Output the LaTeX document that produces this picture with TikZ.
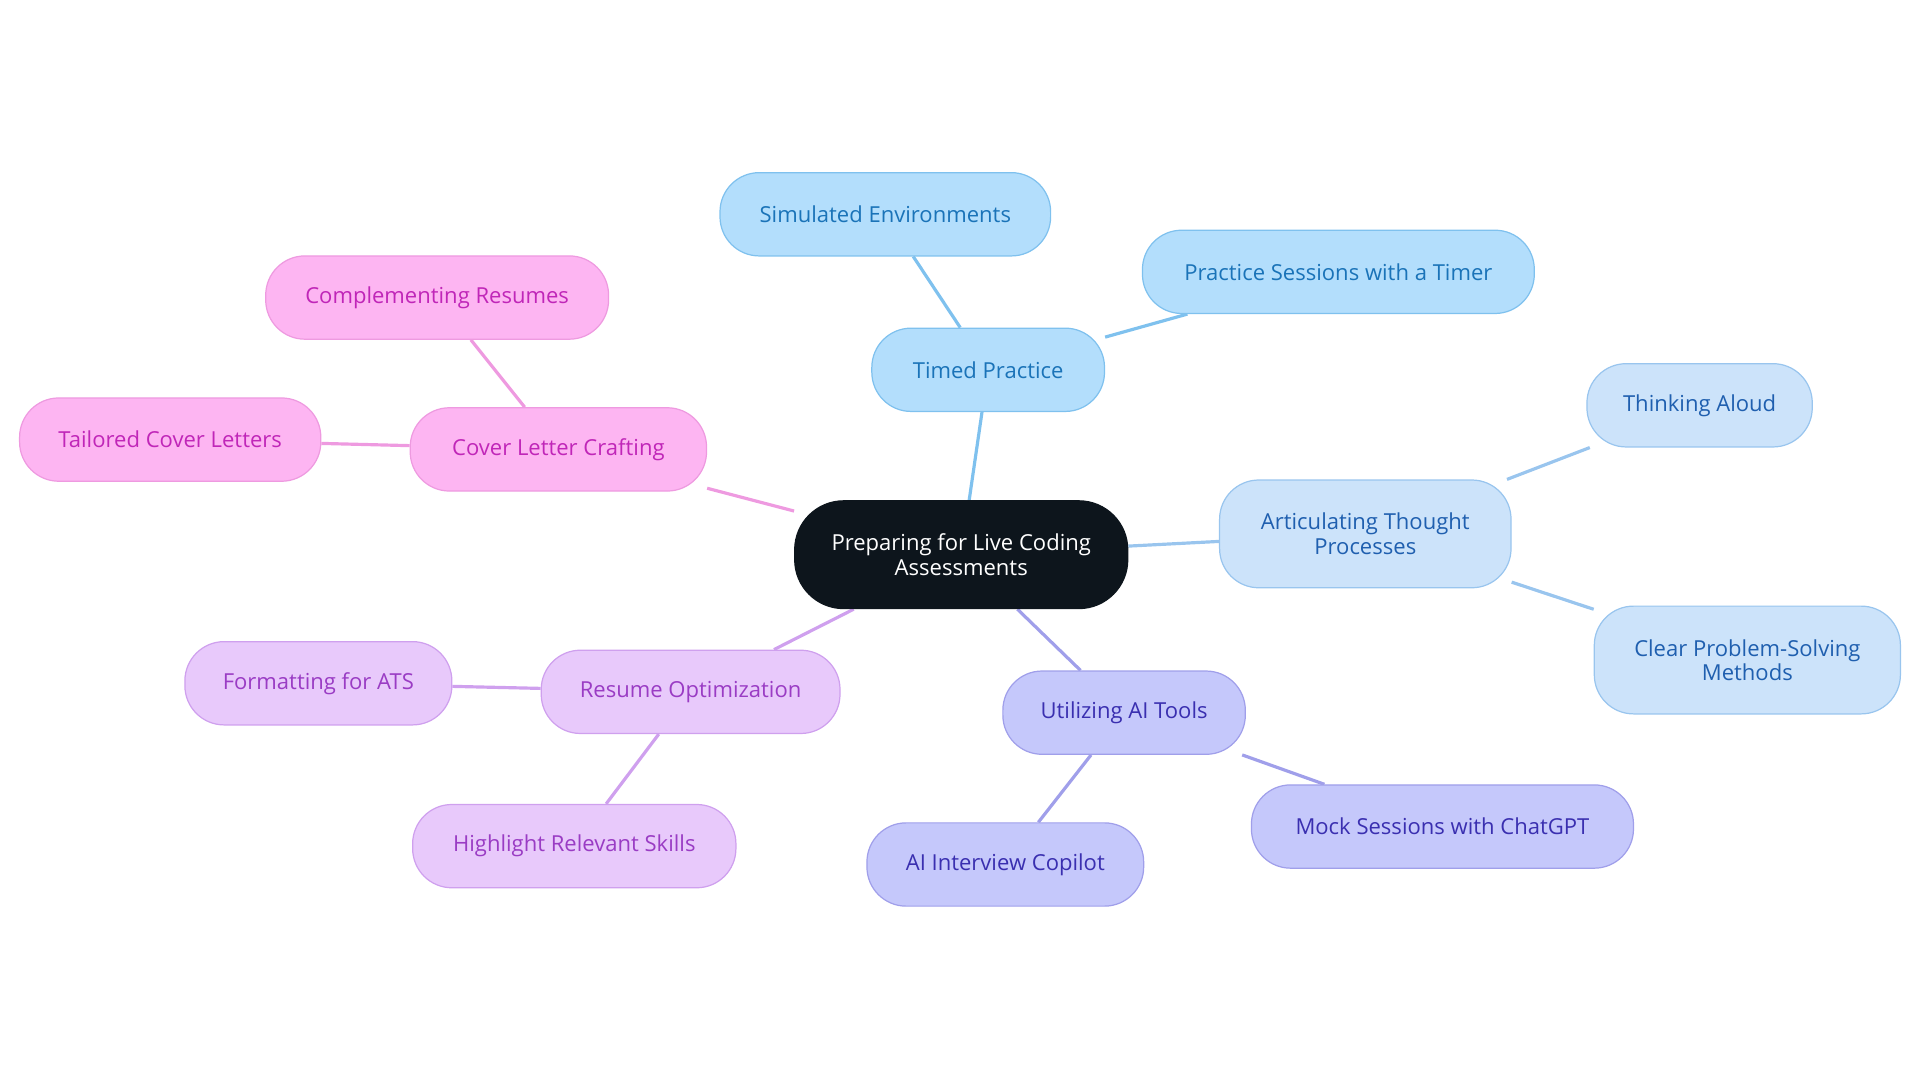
\documentclass[tikz,border=0pt]{standalone}
\usepackage{fontspec}
\setmainfont{Open Sans}
\usetikzlibrary{backgrounds}
\definecolor{rootc}{HTML}{0D151C}
\definecolor{bF}{HTML}{B3DEFC}\definecolor{bD}{HTML}{7FC1EE}\definecolor{bT}{HTML}{1A73B8}
\definecolor{lF}{HTML}{CCE3FA}\definecolor{lD}{HTML}{99C5EE}\definecolor{lT}{HTML}{1F5FAF}
\definecolor{vF}{HTML}{C5C8FB}\definecolor{vD}{HTML}{A09FEA}\definecolor{vT}{HTML}{3A2FB0}
\definecolor{pF}{HTML}{E8C9FB}\definecolor{pD}{HTML}{CFA0EE}\definecolor{pT}{HTML}{9A3CC4}
\definecolor{kF}{HTML}{FDB5F2}\definecolor{kD}{HTML}{EE9AE0}\definecolor{kT}{HTML}{C026B8}
\tikzset{
 box/.style={rounded corners=16pt, minimum height=34pt, align=center, font=\fontsize{9}{10}\selectfont, line width=0.5pt, inner sep=2pt},
 bb/.style={box, fill=bF, draw=bD, text=bT},
 lb/.style={box, fill=lF, draw=lD, text=lT},
 vb/.style={box, fill=vF, draw=vD, text=vT},
 pb/.style={box, fill=pF, draw=pD, text=pT},
 kb/.style={box, fill=kF, draw=kD, text=kT},
 ed/.style={line width=1.3pt}
}
\begin{document}
\begin{tikzpicture}[x=0.5pt,y=-0.5pt]
\useasboundingbox (0,0) rectangle (1568,884);
\node[box, fill=rootc, text=white, draw=rootc, minimum width=136pt, minimum height=44pt, rounded corners=20pt] (r) at (785,453) {Preparing for Live Coding\\Assessments};
\node[bb, minimum width=95pt] (tp) at (807,302) {Timed Practice};
\node[bb, minimum width=135pt] (se) at (723,175) {Simulated Environments};
\node[bb, minimum width=160pt] (ps) at (1093,222) {Practice Sessions with a Timer};
\node[lb, minimum width=119pt, minimum height=44pt] (at) at (1115,436) {Articulating Thought\\Processes};
\node[lb, minimum width=92pt] (ta) at (1388,331) {Thinking Aloud};
\node[lb, minimum width=125pt, minimum height=44pt] (cp) at (1427,539) {Clear Problem-Solving\\Methods};
\node[vb, minimum width=99pt] (ai) at (918,582) {Utilizing AI Tools};
\node[vb, minimum width=156pt] (ms) at (1178,675) {Mock Sessions with ChatGPT};
\node[vb, minimum width=113pt] (ac) at (821,706) {AI Interview Copilot};
\node[pb, minimum width=122pt] (ro) at (564,565) {Resume Optimization};
\node[pb, minimum width=109pt] (fa) at (260,558) {Formatting for ATS};
\node[pb, minimum width=132pt] (hr) at (469,691) {Highlight Relevant Skills};
\node[kb, minimum width=121pt] (cl) at (456,367) {Cover Letter Crafting};
\node[kb, minimum width=140pt] (cr) at (357,243) {Complementing Resumes};
\node[kb, minimum width=123pt] (tc) at (139,359) {Tailored Cover Letters};
\begin{scope}[on background layer]
\draw[ed, bD] (r) -- (tp); \draw[ed, bD] (tp) -- (se); \draw[ed, bD] (tp) -- (ps);
\draw[ed, lD] (r) -- (at); \draw[ed, lD] (at) -- (ta); \draw[ed, lD] (at) -- (cp);
\draw[ed, vD] (r) -- (ai); \draw[ed, vD] (ai) -- (ms); \draw[ed, vD] (ai) -- (ac);
\draw[ed, pD] (r) -- (ro); \draw[ed, pD] (ro) -- (fa); \draw[ed, pD] (ro) -- (hr);
\draw[ed, kD] (r) -- (cl); \draw[ed, kD] (cl) -- (cr); \draw[ed, kD] (cl) -- (tc);
\end{scope}
\end{tikzpicture}
\end{document}
